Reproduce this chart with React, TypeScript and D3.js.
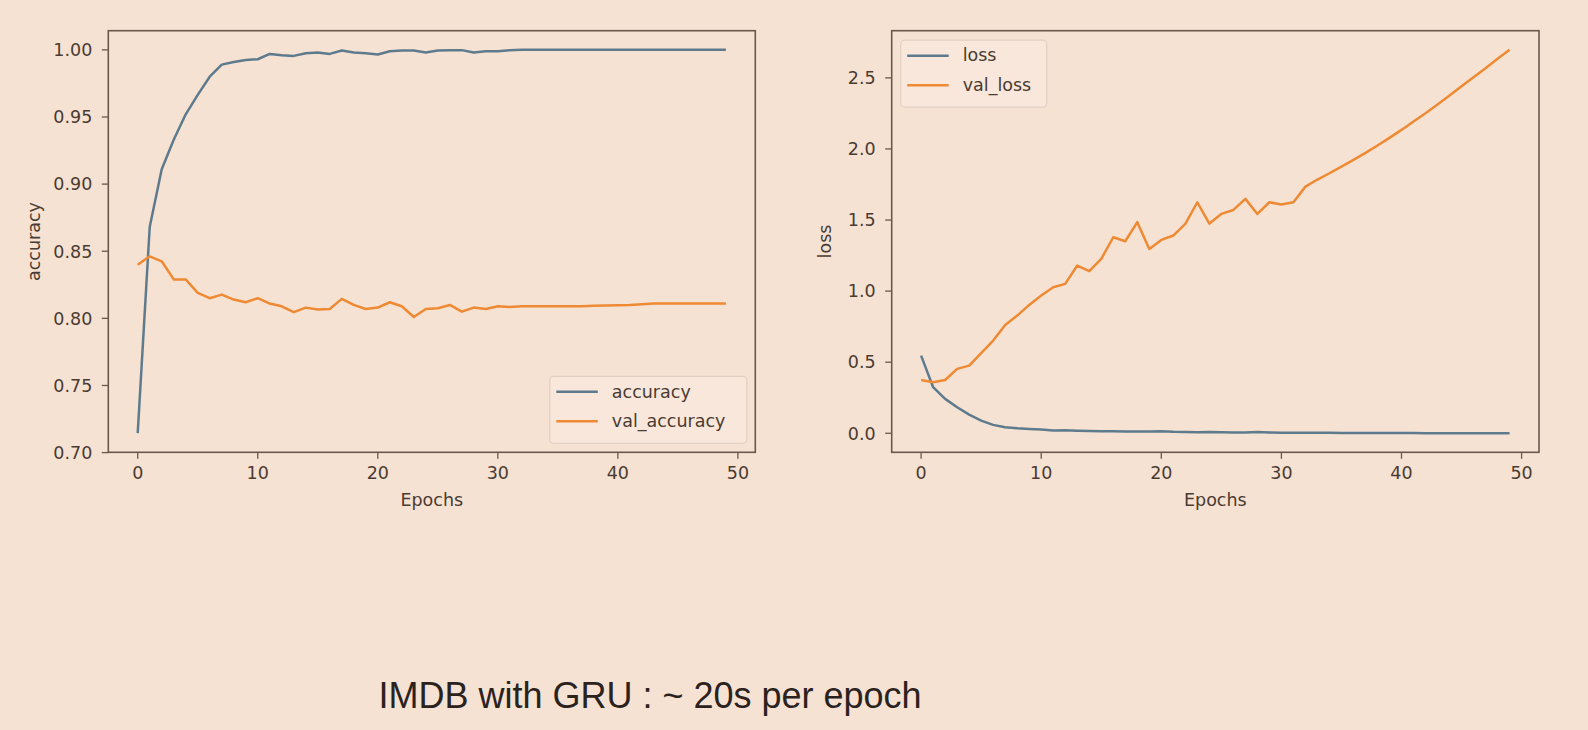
import React from "react";
import * as d3 from "d3";

const epochs = d3.range(50);

const accuracy = [
  0.7145, 0.868, 0.911, 0.933, 0.952, 0.9665, 0.98, 0.989, 0.991, 0.9925,
  0.993, 0.997, 0.996, 0.9955, 0.9975, 0.998, 0.997, 0.9995, 0.998, 0.9975,
  0.9965, 0.999, 0.9995, 0.9995, 0.998, 0.9995, 0.9998, 0.9998, 0.998, 0.999,
  0.999, 0.9998, 1.0, 1.0, 1.0, 1.0, 1.0, 1.0, 1.0, 1.0,
  1.0, 1.0, 1.0, 1.0, 1.0, 1.0, 1.0, 1.0, 1.0, 1.0,
];

const valAccuracy = [
  0.84, 0.8462, 0.8425, 0.829, 0.829, 0.819, 0.815, 0.8177, 0.814, 0.812,
  0.815, 0.811, 0.809, 0.8046, 0.808, 0.8066, 0.807, 0.8145, 0.81, 0.807,
  0.808, 0.812, 0.809, 0.801, 0.807, 0.8075, 0.81, 0.805, 0.808, 0.807,
  0.809, 0.8085, 0.809, 0.809, 0.809, 0.809, 0.809, 0.809, 0.8093, 0.8095,
  0.8097, 0.81, 0.8105, 0.811, 0.811, 0.811, 0.811, 0.811, 0.811, 0.811,
];

const loss = [
  0.546, 0.324, 0.242, 0.183, 0.131, 0.089, 0.059, 0.042, 0.035, 0.03,
  0.026, 0.019, 0.021, 0.018, 0.016, 0.015, 0.014, 0.012, 0.013, 0.012,
  0.014, 0.01, 0.009, 0.008, 0.009, 0.007, 0.006, 0.006, 0.009, 0.005,
  0.004, 0.004, 0.003, 0.003, 0.003, 0.002, 0.002, 0.002, 0.002, 0.002,
  0.002, 0.002, 0.001, 0.001, 0.001, 0.001, 0.001, 0.001, 0.001, 0.001,
];

const valLoss = [
  0.375, 0.359, 0.375, 0.453, 0.476, 0.563, 0.652, 0.762, 0.828, 0.903,
  0.969, 1.027, 1.051, 1.18, 1.14, 1.227, 1.379, 1.351, 1.485, 1.297,
  1.36, 1.391, 1.473, 1.625, 1.475, 1.543, 1.571, 1.649, 1.543, 1.625,
  1.609, 1.625, 1.735, 1.785, 1.829, 1.876, 1.923, 1.972, 2.024, 2.078,
  2.134, 2.193, 2.251, 2.312, 2.376, 2.441, 2.505, 2.568, 2.634, 2.697,
];

const xTicks = [0, 10, 20, 30, 40, 50];
const accTicks = [0.7, 0.75, 0.8, 0.85, 0.9, 0.95, 1.0];
const lossTicks = [0.0, 0.5, 1.0, 1.5, 2.0, 2.5];

const W = 1588;
const H = 730;
const BG = "#f6e2d3";
const BLUE = "#5e7b8d";
const ORANGE = "#ee8a34";
const AXIS = "#6b574b";
const TEXT = "#4a3b32";
const FONT = "DejaVu Sans, sans-serif";

type Series = { name: string; values: number[]; color: string };

function Panel(props: {
  left: number;
  top: number;
  width: number;
  height: number;
  series: Series[];
  yTicks: number[];
  yFmt: (v: number) => string;
  yLabel: string;
  yLabelX: number;
  legend: "lr" | "ul";
}) {
  const { left, top, width, height, series, yTicks, yFmt, yLabel, yLabelX, legend } = props;
  const all = series.flatMap((s) => s.values);
  const yMin = d3.min(all)!;
  const yMax = d3.max(all)!;
  const yPad = (yMax - yMin) * 0.05;
  const xPad = (epochs.length - 1) * 0.05;
  const x = d3.scaleLinear().domain([-xPad, epochs.length - 1 + xPad]).range([left, left + width]);
  const y = d3.scaleLinear().domain([yMin - yPad, yMax + yPad]).range([top + height, top]);
  const line = d3
    .line<number>()
    .x((_, i) => x(epochs[i]))
    .y((d) => y(d));

  const legW = legend === "lr" ? 197 : 146;
  const legH = 67;
  const legX = legend === "lr" ? left + width - legW - 8.5 : left + 9;
  const legY = legend === "lr" ? top + height - legH - 9 : top + 9.5;

  return (
    <g>
      <defs>
        <clipPath id={`clip-${Math.round(left)}`}>
          <rect x={left} y={top} width={width} height={height} />
        </clipPath>
      </defs>
      <g clipPath={`url(#clip-${Math.round(left)})`}>
        {series.map((s) => (
          <path
            key={s.name}
            d={line(s.values)!}
            fill="none"
            stroke={s.color}
            strokeWidth={2.5}
            strokeLinejoin="round"
            strokeLinecap="butt"
          />
        ))}
      </g>
      <rect x={left} y={top} width={width} height={height} fill="none" stroke={AXIS} strokeWidth={1.6} />
      {xTicks.map((t) => (
        <g key={`x${t}`}>
          <line x1={x(t)} x2={x(t)} y1={top + height} y2={top + height + 6.5} stroke={AXIS} strokeWidth={1.3} />
          <text x={x(t)} y={top + height + 27} textAnchor="middle" fontSize={17.5} fill={TEXT} fontFamily={FONT}>
            {t}
          </text>
        </g>
      ))}
      {yTicks.map((t) => (
        <g key={`y${t}`}>
          <line x1={left - 6.5} x2={left} y1={y(t)} y2={y(t)} stroke={AXIS} strokeWidth={1.3} />
          <text
            x={left - 16}
            y={y(t)}
            dy="0.36em"
            textAnchor="end"
            fontSize={17.5}
            fill={TEXT}
            fontFamily={FONT}
          >
            {yFmt(t)}
          </text>
        </g>
      ))}
      <text
        x={left + width / 2}
        y={top + height + 54}
        textAnchor="middle"
        fontSize={17.5}
        fill={TEXT}
        fontFamily={FONT}
      >
        Epochs
      </text>
      <text
        transform={`translate(${yLabelX},${top + height / 2}) rotate(-90)`}
        textAnchor="middle"
        dy="0.3em"
        fontSize={17.5}
        fill={TEXT}
        fontFamily={FONT}
      >
        {yLabel}
      </text>
      <rect
        x={legX}
        y={legY}
        width={legW}
        height={legH}
        rx={4}
        fill="#f8e7da"
        fillOpacity={0.85}
        stroke="#e2d0c2"
        strokeWidth={1.2}
      />
      {series.map((s, i) => (
        <g key={`leg${s.name}`}>
          <line
            x1={legX + 6.5}
            x2={legX + 48}
            y1={legY + 15.5 + i * 29.5}
            y2={legY + 15.5 + i * 29.5}
            stroke={s.color}
            strokeWidth={2.5}
          />
          <text
            x={legX + 62}
            y={legY + 15.5 + i * 29.5}
            dy="0.33em"
            fontSize={17.5}
            fill={TEXT}
            fontFamily={FONT}
          >
            {s.name}
          </text>
        </g>
      ))}
    </g>
  );
}

export default function App() {
  return (
    <svg
      width={W}
      height={H}
      viewBox={`0 0 ${W} ${H}`}
      style={{ position: "absolute", left: 0, top: 0, background: BG }}
    >
      <rect x={0} y={0} width={W} height={H} fill={BG} />
      <Panel
        left={108.3}
        top={30.7}
        width={647}
        height={421.6}
        series={[
          { name: "accuracy", values: accuracy, color: BLUE },
          { name: "val_accuracy", values: valAccuracy, color: ORANGE },
        ]}
        yTicks={accTicks}
        yFmt={d3.format(".2f")}
        yLabel="accuracy"
        yLabelX={35}
        legend="lr"
      />
      <Panel
        left={891.7}
        top={30.7}
        width={647.3}
        height={421.6}
        series={[
          { name: "loss", values: loss, color: BLUE },
          { name: "val_loss", values: valLoss, color: ORANGE },
        ]}
        yTicks={lossTicks}
        yFmt={d3.format(".1f")}
        yLabel="loss"
        yLabelX={826}
        legend="ul"
      />
      <text x={650} y={708} textAnchor="middle" fontSize={36} fill="#2b221d" fontFamily="Liberation Sans, Arial, sans-serif">
        IMDB with GRU : ~ 20s per epoch
      </text>
    </svg>
  );
}
